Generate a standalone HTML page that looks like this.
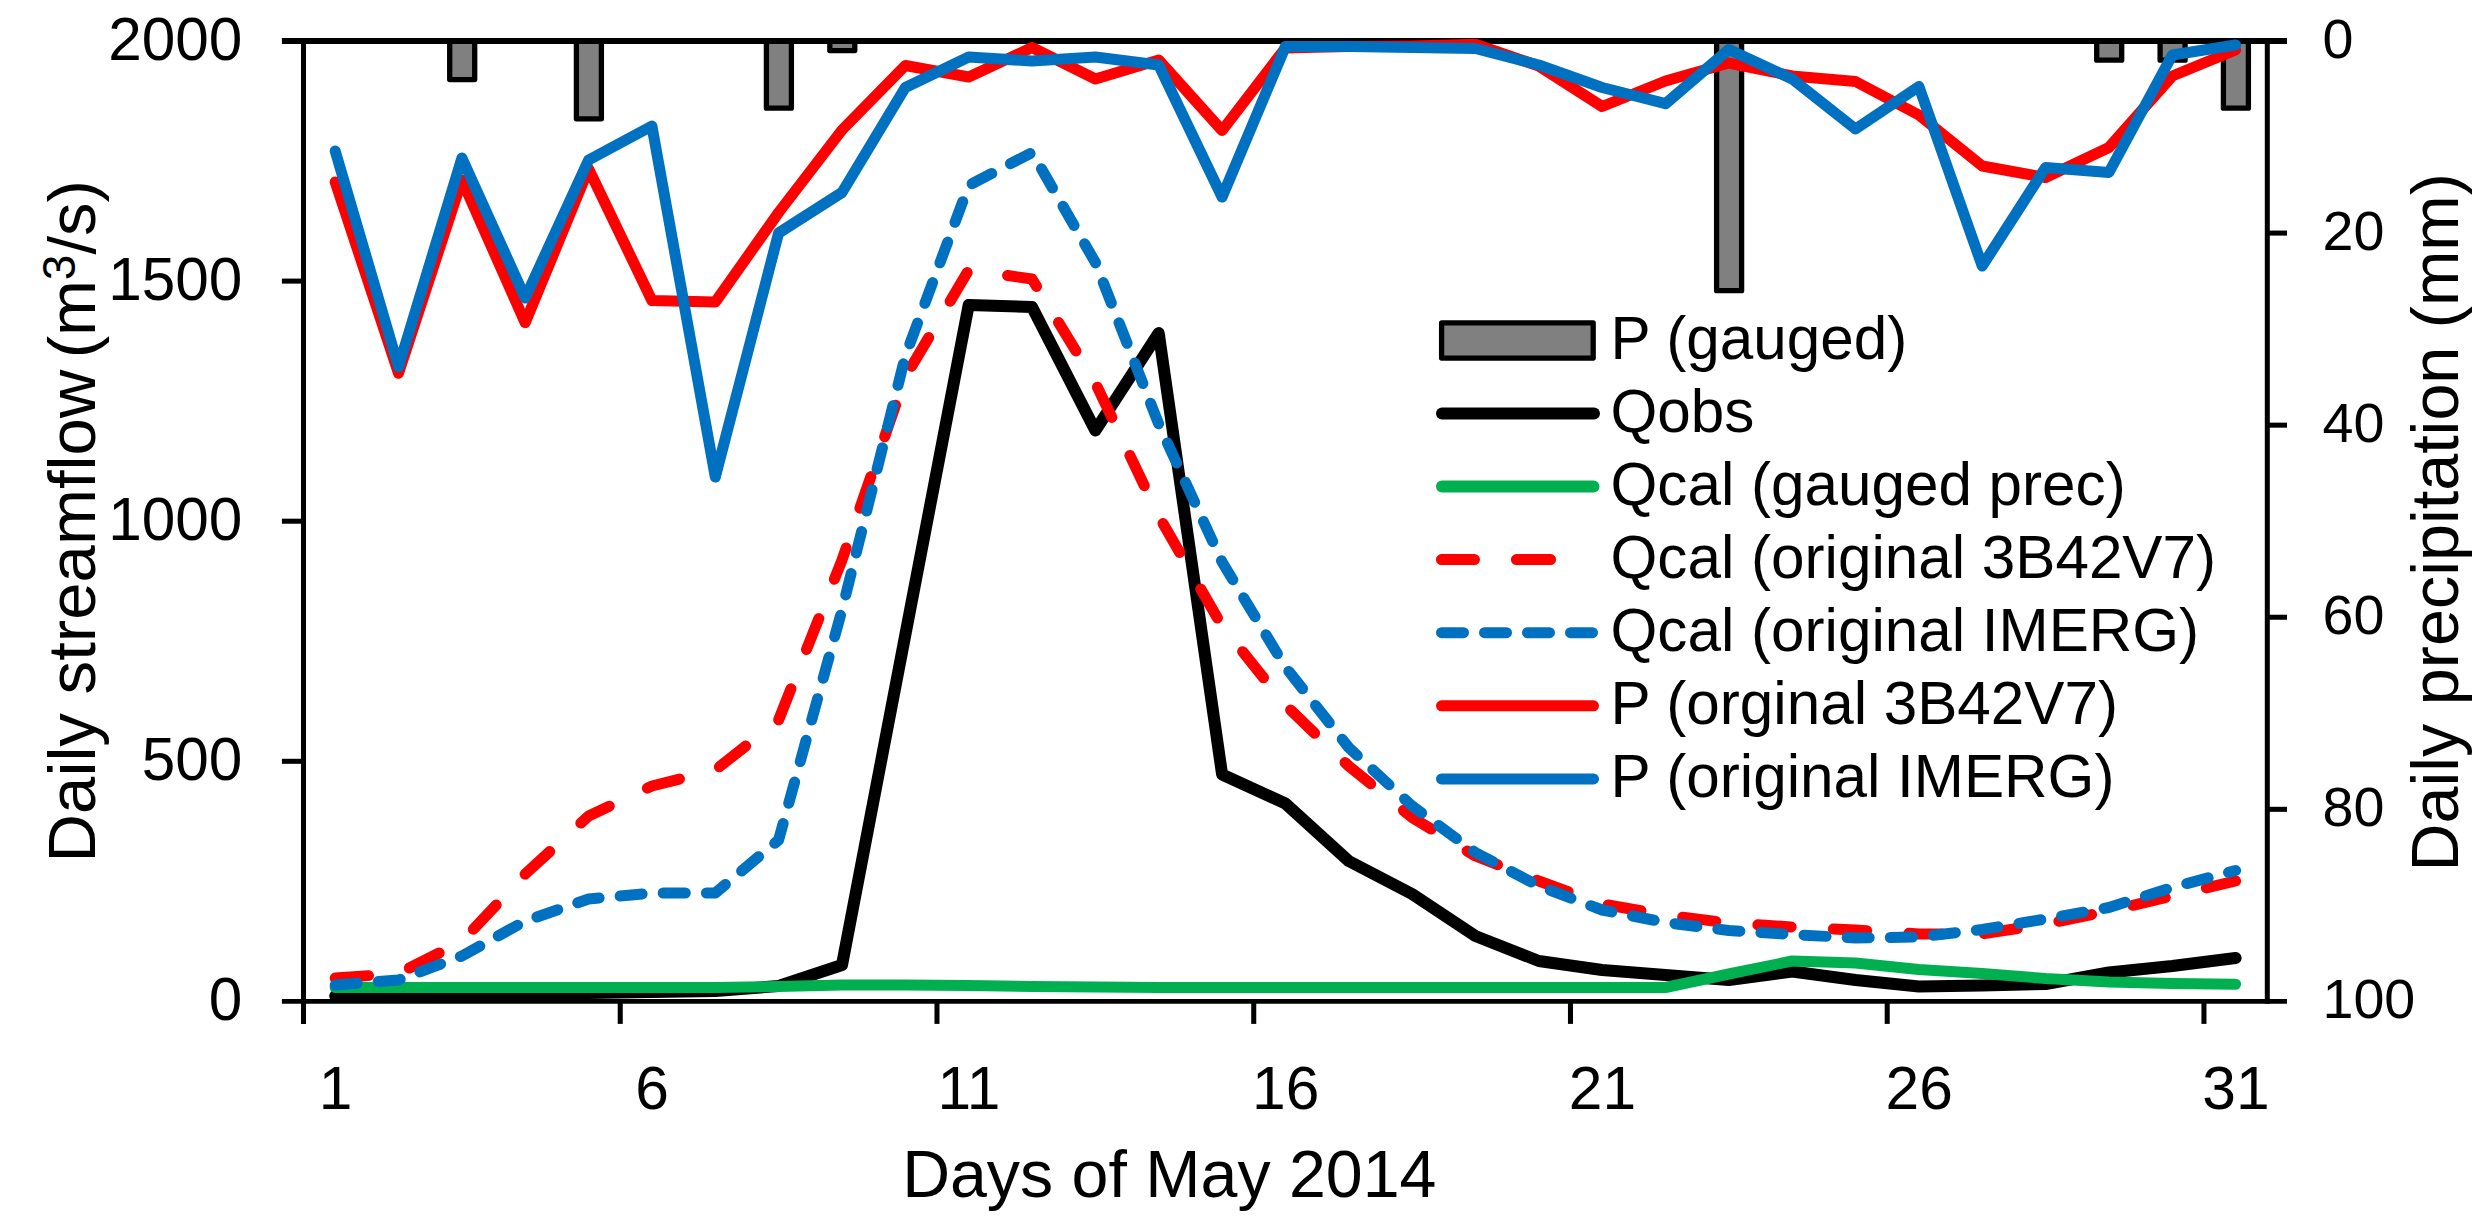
<!DOCTYPE html>
<html lang="en"><head><meta charset="utf-8"><title>Daily streamflow and precipitation, May 2014</title>
<style>html,body{margin:0;padding:0;background:#fff;}svg{display:block;}text{font-family:'Liberation Sans',Arial,sans-serif;fill:#000;}</style></head><body>
<svg width="2491" height="1229" viewBox="0 0 2491 1229">
<rect width="2491" height="1229" fill="#fff"/>
<g fill="#808080" stroke="#000" stroke-width="5.3" stroke-linejoin="round">
<rect x="449.7" y="41.0" width="25.0" height="38.6"/>
<rect x="576.4" y="41.0" width="25.0" height="77.8"/>
<rect x="766.4" y="41.0" width="25.0" height="67.2"/>
<rect x="829.8" y="41.0" width="25.0" height="9.6"/>
<rect x="1716.6" y="41.0" width="25.0" height="249.7"/>
<rect x="2096.7" y="41.0" width="25.0" height="19.2"/>
<rect x="2160.1" y="41.0" width="25.0" height="19.2"/>
<rect x="2223.4" y="41.0" width="25.0" height="67.2"/>
</g>
<g stroke="#000" fill="none" stroke-linecap="butt">
<path d="M281.9 41.00 H2287" stroke-width="6.1"/>
<path d="M281.9 1001.40 H2287" stroke-width="4.9"/>
<path d="M303.50 38.00 V1023.9" stroke-width="5.05"/>
<path d="M2267.30 38.00 V1003.80" stroke-width="5.0"/>
<g stroke-width="5.05">
<path d="M281.9 281.10 H303.5"/>
<path d="M281.9 521.20 H303.5"/>
<path d="M281.9 761.30 H303.5"/>
<path d="M2267.3 233.08 H2287"/>
<path d="M2267.3 425.16 H2287"/>
<path d="M2267.3 617.24 H2287"/>
<path d="M2267.3 809.32 H2287"/>
<path d="M620.24 1001.4 V1023.9"/>
<path d="M936.98 1001.4 V1023.9"/>
<path d="M1253.73 1001.4 V1023.9"/>
<path d="M1570.47 1001.4 V1023.9"/>
<path d="M1887.21 1001.4 V1023.9"/>
<path d="M2203.95 1001.4 V1023.9"/>
</g></g>
<g fill="none">
<path d="M335.2 996.0 L398.5 996.0 L461.9 995.0 L525.2 994.0 L588.6 993.0 L651.9 992.0 L715.3 991.0 L778.6 986.0 L842.0 965.0 L905.3 635.0 L968.7 305.0 L1032.0 307.0 L1095.4 430.5 L1158.7 333.0 L1222.1 774.5 L1285.4 803.5 L1348.7 861.0 L1412.1 894.0 L1475.4 936.0 L1538.8 961.0 L1602.1 970.0 L1665.5 975.0 L1728.8 980.0 L1792.2 971.5 L1855.5 980.0 L1918.9 986.5 L1982.2 985.5 L2045.6 984.0 L2108.9 972.5 L2172.3 966.0 L2235.6 958.0" stroke="#000" stroke-width="12" stroke-linejoin="round" stroke-linecap="round"/>
<path d="M335.2 987.5 L398.5 987.5 L461.9 987.5 L525.2 987.5 L588.6 987.5 L651.9 987.5 L715.3 987.5 L778.6 986.5 L842.0 985.0 L905.3 985.0 L968.7 985.5 L1032.0 986.5 L1095.4 987.0 L1158.7 987.5 L1222.1 987.5 L1285.4 987.5 L1348.7 987.5 L1412.1 987.5 L1475.4 987.5 L1538.8 987.5 L1602.1 987.5 L1665.5 987.5 L1728.8 974.0 L1792.2 961.0 L1855.5 963.0 L1918.9 969.5 L1982.2 973.5 L2045.6 978.5 L2108.9 982.0 L2172.3 983.5 L2235.6 984.2" stroke="#00B050" stroke-width="11" stroke-linejoin="round" stroke-linecap="round"/>
<path d="M335.2 978.0 L398.5 973.5 L461.9 941.5 L525.2 874.0 L588.6 816.0 L651.9 786.0 L715.3 770.0 L778.6 720.0 L842.0 560.0 L905.3 377.0 L968.7 270.0 L1032.0 279.0 L1095.4 383.0 L1158.7 516.0 L1222.1 626.0 L1285.4 705.0 L1348.7 766.0 L1412.1 817.5 L1475.4 856.0 L1538.8 881.0 L1602.1 904.0 L1665.5 915.0 L1728.8 923.0 L1792.2 927.0 L1855.5 930.0 L1918.9 934.0 L1982.2 934.0 L2045.6 924.0 L2108.9 911.0 L2172.3 896.0 L2235.6 881.0" stroke="#FF0000" stroke-width="11" stroke-linejoin="round" stroke-linecap="round" stroke-dasharray="33.4 42.2"/>
<path d="M335.2 985.0 L398.5 980.0 L461.9 956.0 L525.2 921.0 L588.6 899.0 L651.9 893.0 L715.3 893.0 L778.6 840.0 L842.0 610.0 L905.3 356.0 L968.7 185.5 L1032.0 152.5 L1095.4 262.5 L1158.7 424.0 L1222.1 562.0 L1285.4 667.0 L1348.7 747.5 L1412.1 806.0 L1475.4 852.5 L1538.8 886.0 L1602.1 910.0 L1665.5 922.5 L1728.8 930.5 L1792.2 934.5 L1855.5 938.0 L1918.9 937.0 L1982.2 929.5 L2045.6 919.0 L2108.9 907.5 L2172.3 887.5 L2235.6 870.5" stroke="#0070C0" stroke-width="11" stroke-linejoin="round" stroke-linecap="round" stroke-dasharray="22.1 21.1"/>
<path d="M335.2 182.0 L398.5 373.3 L461.9 180.0 L525.2 322.7 L588.6 169.0 L651.9 300.5 L715.3 302.0 L778.6 212.5 L842.0 130.0 L905.3 65.5 L968.7 77.0 L1032.0 47.5 L1095.4 79.0 L1158.7 60.0 L1222.1 130.5 L1285.4 48.0 L1348.7 46.5 L1412.1 46.0 L1475.4 44.3 L1538.8 66.0 L1602.1 106.5 L1665.5 81.0 L1728.8 63.0 L1792.2 76.0 L1855.5 81.5 L1918.9 115.0 L1982.2 166.0 L2045.6 177.5 L2108.9 147.5 L2172.3 76.0 L2235.6 50.0" stroke="#FF0000" stroke-width="11" stroke-linejoin="round" stroke-linecap="round"/>
<path d="M335.2 151.0 L398.5 367.0 L461.9 158.0 L525.2 298.0 L588.6 160.0 L651.9 126.0 L715.3 477.0 L778.6 233.0 L842.0 192.5 L905.3 87.5 L968.7 57.0 L1032.0 61.0 L1095.4 57.0 L1158.7 65.0 L1222.1 197.0 L1285.4 46.5 L1348.7 46.5 L1412.1 47.5 L1475.4 48.5 L1538.8 65.0 L1602.1 87.5 L1665.5 103.7 L1728.8 49.5 L1792.2 79.0 L1855.5 129.0 L1918.9 86.5 L1982.2 266.0 L2045.6 167.5 L2108.9 172.5 L2172.3 55.0 L2235.6 45.0" stroke="#0070C0" stroke-width="11" stroke-linejoin="round" stroke-linecap="round"/>
</g>
<rect x="1441.6" y="322.8" width="151.6" height="35.3" fill="#808080" stroke="#000" stroke-width="5.3" stroke-linejoin="round"/>
<g fill="none" stroke-linecap="round">
<path d="M1442.0 413.5 H1594.0" stroke="#000" stroke-width="12"/>
<path d="M1442.0 486.6 H1593.5" stroke="#00B050" stroke-width="12"/>
<path d="M1441.4 559.6 H1474.5 M1516.4 559.6 H1550.6" stroke="#FF0000" stroke-width="11"/>
<path d="M1441.5 632.7 H1594.0" stroke="#0070C0" stroke-width="11" stroke-dasharray="22 21"/>
<path d="M1441.5 705.8 H1593.5" stroke="#FF0000" stroke-width="11"/>
<path d="M1441.5 778.9 H1593.5" stroke="#0070C0" stroke-width="11"/>
</g>
<g font-size="60.2">
<text x="1610.5" y="358.8">P (gauged)</text>
<text x="1610.5" y="431.9">Qobs</text>
<text x="1610.5" y="505.0">Qcal (gauged prec)</text>
<text x="1610.5" y="578.0">Qcal (original 3B42V7)</text>
<text x="1610.5" y="651.1">Qcal (original IMERG)</text>
<text x="1610.5" y="724.2">P (orginal 3B42V7)</text>
<text x="1610.5" y="797.3">P (original IMERG)</text>
</g>
<g font-size="60.3" text-anchor="end">
<text x="242.4" y="59.6">2000</text>
<text x="242.4" y="299.7">1500</text>
<text x="242.4" y="539.8">1000</text>
<text x="242.4" y="779.9">500</text>
<text x="242.4" y="1020.0">0</text>
</g>
<g font-size="55.6">
<text x="2322.5" y="57.6">0</text>
<text x="2322.5" y="249.7">20</text>
<text x="2322.5" y="441.8">40</text>
<text x="2322.5" y="633.8">60</text>
<text x="2322.5" y="825.9">80</text>
<text x="2322.5" y="1018.0">100</text>
</g>
<g font-size="60.5" text-anchor="middle">
<text x="335.5" y="1109">1</text>
<text x="652.2" y="1109">6</text>
<text x="969.0" y="1109">11</text>
<text x="1285.7" y="1109">16</text>
<text x="1602.4" y="1109">21</text>
<text x="1919.2" y="1109">26</text>
<text x="2235.9" y="1109">31</text>
</g>
<text x="1169.3" y="1197.2" font-size="66.3" text-anchor="middle">Days of May 2014</text>
<text transform="translate(94.7 369.6) rotate(-90)" font-size="67.2" text-anchor="end">Daily streamflow</text>
<text transform="translate(94.7 358.3) rotate(-90)" font-size="67">(m<tspan font-size="46" dy="-19.7">3</tspan><tspan dy="19.7">/s)</tspan></text>
<text transform="translate(2457.5 522.3) rotate(-90)" font-size="66.5" text-anchor="middle">Daily precipitation (mm)</text>
</svg></body></html>
